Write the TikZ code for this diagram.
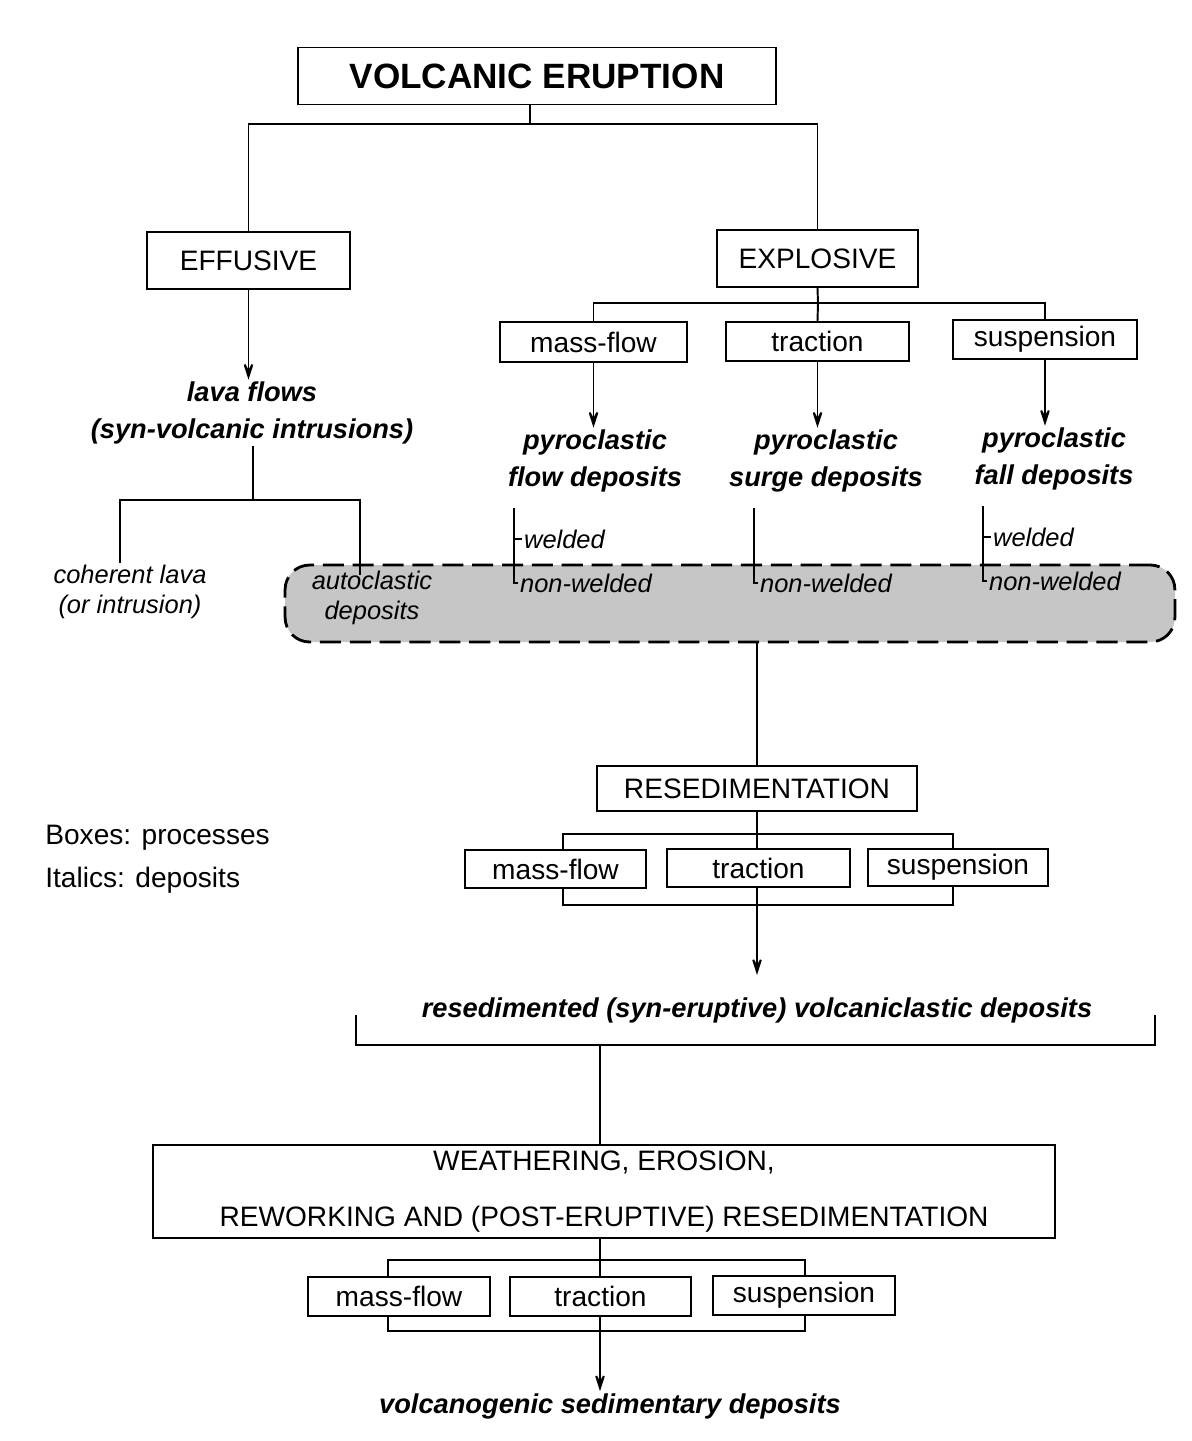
\documentclass[tikz,border=0pt]{standalone}
\usepackage{fontspec}
\setmainfont{Liberation Sans}
\usetikzlibrary{arrows.meta}
\tikzset{
  pbox/.style={draw,line width=1.1pt,fill=white,inner sep=0pt,font=\fontsize{16}{19}\selectfont},
  dep/.style={font=\fontsize{15.5}{21}\selectfont\bfseries\itshape,align=center,inner sep=1pt},
  sdep/.style={font=\fontsize{14.5}{17}\selectfont\itshape,align=center,inner sep=1pt},
  ln/.style={line width=1.1pt},
  arr/.style={line width=1.1pt,-{Stealth[length=5mm,width=3.2mm,inset=3mm]}}
}
\begin{document}
\begin{tikzpicture}[x=0.02cm,y=-0.02cm]
\useasboundingbox (0,0) rectangle (1192,1441);
% gray band
\node[draw,line width=1.6pt,dash pattern=on 12pt off 5pt,rounded corners=14pt,fill=gray!45,minimum width=17.8cm,minimum height=1.54cm] (gbox) at (730,603.5) {};
% top
\node[pbox,minimum width=9.56cm,minimum height=1.14cm,font=\fontsize{20}{24}\selectfont\bfseries] (title) at (537,76) {VOLCANIC ERUPTION};
\node[pbox,minimum width=4.06cm,minimum height=1.14cm] (eff) at (248.5,260.5) {EFFUSIVE};
\node[pbox,minimum width=4.02cm,minimum height=1.14cm] (exp) at (817.5,258.5) {EXPLOSIVE};
\coordinate (j1) at (530,124);
\draw[ln] (title.south -| j1) -- (j1);
\draw[ln] (eff.north) |- (j1) -| (exp.north);
% effusive branch
\node[dep] (lava) at (252,413) {lava flows\\(syn-volcanic intrusions)};
\draw[arr] (eff.south) -- (eff.south |- lava.north);
\node[sdep] (coh) at (130,592) {coherent lava\\(or intrusion)};
\node[sdep] (auto) at (372,598) {autoclastic\\deposits};
\coordinate (j2) at (253,500);
\draw[ln] (lava.south -| j2) -- (j2);
\draw[ln] (coh.north -| 120,0) |- (j2) -| (360,575);
% explosive branch
\node[pbox,minimum width=3.74cm,minimum height=0.8cm] (mf1) at (593.5,342) {mass-flow};
\node[pbox,minimum width=3.66cm,minimum height=0.78cm] (tr1) at (817.5,341.5) {traction};
\node[pbox,minimum width=3.68cm,minimum height=0.78cm] (su1) at (1045,339.5) {suspension};
\coordinate (j3) at (818,303);
\draw[ln] (exp.south) -- (j3);
\draw[ln] (mf1.north) |- (j3) -| (su1.north);
\draw[ln] (j3) -- (tr1.north);
\node[dep] (pf) at (595,461) {pyroclastic\\flow deposits};
\node[dep] (ps) at (826,461) {pyroclastic\\surge deposits};
\node[dep] (pl) at (1054,459) {pyroclastic\\fall deposits};
\draw[arr] (mf1.south) -- (mf1.south |- pf.north);
\draw[arr] (tr1.south) -- (tr1.south |- ps.north);
\draw[arr] (su1.south) -- (su1.south |- pl.north);
% welded brackets
\node[sdep,anchor=west] (w1) at (522,539) {welded};
\node[sdep,anchor=west] (nw1) at (518,583) {non-welded};
\coordinate (b1) at (514,508);
\draw[line width=0.8pt] (b1) |- (nw1.west);
\draw[line width=0.8pt] (w1.west) -- (w1.west -| b1);
\node[sdep,anchor=west] (nw2) at (758,583) {non-welded};
\coordinate (b2) at (754,508);
\draw[line width=0.8pt] (b2) |- (nw2.west);
\node[sdep,anchor=west] (w3) at (991,537) {welded};
\node[sdep,anchor=west] (nw3) at (987,581) {non-welded};
\coordinate (b3) at (983,506);
\draw[line width=0.8pt] (b3) |- (nw3.west);
\draw[line width=0.8pt] (w3.west) -- (w3.west -| b3);
% resedimentation
\node[pbox,minimum width=6.4cm,minimum height=0.9cm] (resed) at (757,788.5) {RESEDIMENTATION};
\draw[ln] (resed.north) -- (resed.north |- gbox.south);
\draw[ln] (563,834) rectangle (953,905);
\node[pbox,minimum width=3.62cm,minimum height=0.76cm] (mf2) at (555.5,869) {mass-flow};
\node[pbox,minimum width=3.66cm,minimum height=0.76cm] (tr2) at (758.5,868) {traction};
\node[pbox,minimum width=3.6cm,minimum height=0.74cm] (su2) at (958,867.5) {suspension};
\draw[ln] (resed.south) -- (resed.south |- tr2.north);
\node[dep] (rsd) at (757,1010) {resedimented (syn-eruptive) volcaniclastic deposits};
\draw[arr] (resed.south |- tr2.south) -- (resed.south |- 0,975);
\coordinate (j4) at (600,1045);
\draw[ln] (356,1015) |- (1155,1045) -- (1155,1015);
% weathering
\node[pbox,minimum width=18.04cm,minimum height=1.86cm,align=center,font=\fontsize{16}{32}\selectfont] (weath) at (604,1191.5) {WEATHERING, EROSION,\\REWORKING AND (POST-ERUPTIVE) RESEDIMENTATION};
\draw[ln] (j4) -- (j4 |- weath.north);
\draw[ln] (388,1260) rectangle (805,1331);
\node[pbox,minimum width=3.64cm,minimum height=0.78cm] (mf3) at (399,1296.5) {mass-flow};
\node[pbox,minimum width=3.62cm,minimum height=0.78cm] (tr3) at (600.5,1296.5) {traction};
\node[pbox,minimum width=3.64cm,minimum height=0.78cm] (su3) at (804,1295.5) {suspension};
\draw[ln] (j4 |- weath.south) -- (j4 |- tr3.north);
\node[dep] (volc) at (610,1406) {volcanogenic sedimentary deposits};
\draw[arr] (j4 |- tr3.south) -- (j4 |- volc.north);
% legend
\node[anchor=west,font=\fontsize{16}{19}\selectfont,inner sep=0pt] (lg1) at (45,838) {Boxes: processes};
\node[anchor=west,font=\fontsize{16}{19}\selectfont,inner sep=0pt] (lg2) at (45,880) {Italics: deposits};
\end{tikzpicture}
\end{document}
